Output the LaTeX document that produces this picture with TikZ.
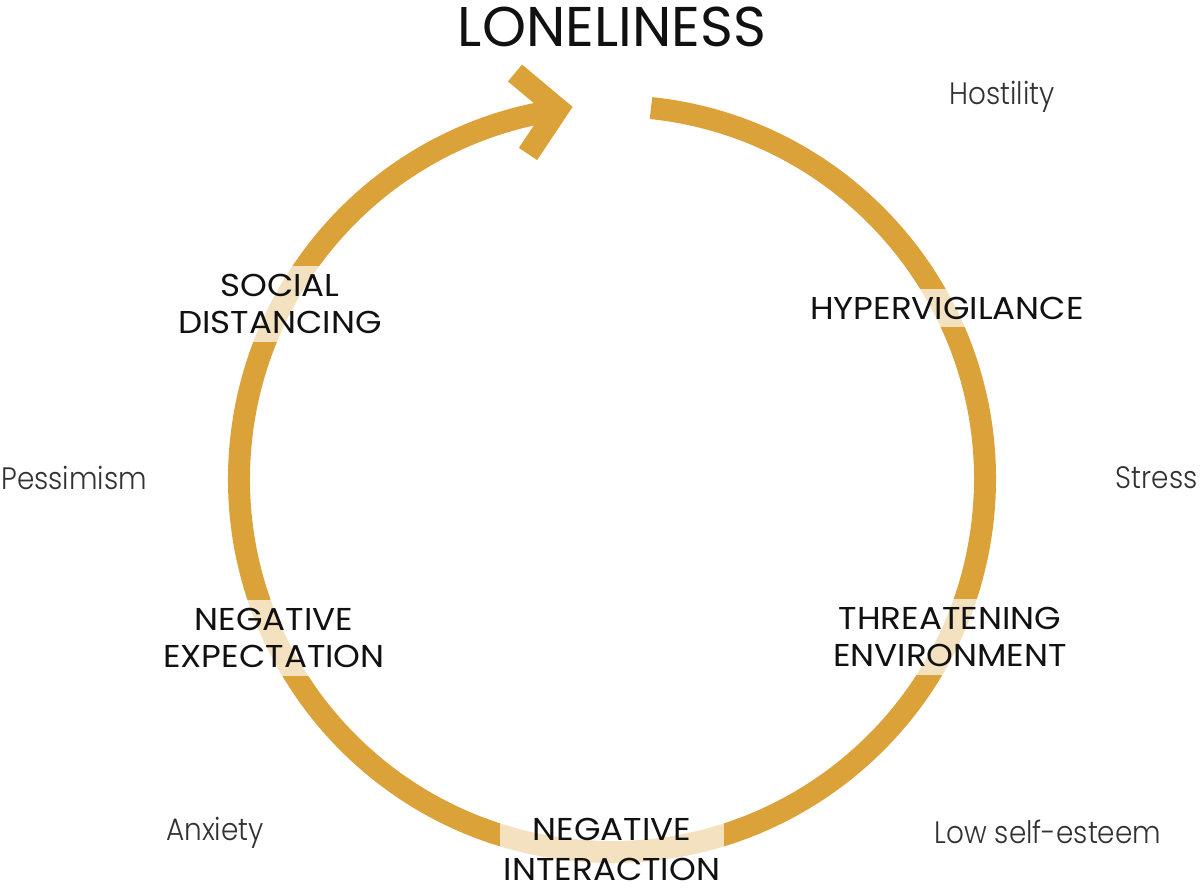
\documentclass[tikz,border=0pt]{standalone}
\usepackage{fontspec}
\setmainfont{Poppins}
\newfontfamily\labelfont[FakeStretch=1.08]{Poppins}
\IfFontExistsTF{Poppins Light}{\newfontfamily\lightfont[FakeStretch=0.9]{Poppins Light}}{\newfontfamily\lightfont[FakeStretch=0.9]{Poppins}}
\usetikzlibrary{calc}
\definecolor{gold}{RGB}{220,162,58}
\definecolor{ink}{RGB}{17,17,17}
\definecolor{soft}{RGB}{50,50,50}
\tikzset{
  ring/.style={draw=gold, line width=11pt, line cap=butt},
  stage/.style={fill=white, fill opacity=0.68, text opacity=1, text=ink, align=center,
    inner xsep=2pt, inner ysep=4pt, font=\labelfont\fontsize{15.8}{18.4}\selectfont},
  side/.style={text=soft, inner sep=0pt, font=\lightfont\fontsize{15.5}{19}\selectfont},
}
\begin{document}
\begin{tikzpicture}[x=0.5pt,y=0.5pt]
\useasboundingbox (0,0) rectangle (1200,-889);
\coordinate (C) at (612,-479);
% ring
\draw[ring] ($(C)+(84:186.5pt)$) arc[start angle=84, end angle=-262, radius=186.5pt];
\coordinate (aU) at (515,-73);
\coordinate (aT) at (558,-109);
\coordinate (aL) at (528,-154);
\draw[ring, line join=miter] (aU) -- (aT) -- (aL);
% title
\node[text=ink, inner sep=0pt, font=\fontsize{28}{32}\selectfont] (title) at (612,-27) {LONELINESS};
% stages
\node[stage] (social) at (280,-304) {SOCIAL\\DISTANCING};
\node[stage] (hyper) at (947,-308) {HYPERVIGILANCE};
\node[stage] (threat) at (950,-637) {THREATENING\\ENVIRONMENT};
\node[stage] (negexp) at (274,-638) {NEGATIVE\\EXPECTATION};
\node[stage, font=\labelfont\fontsize{15.8}{20}\selectfont] (negint) at (612,-849) {NEGATIVE\\INTERACTION};
% side words
\node[side] (host) at (1002,-97) {Hostility};
\node[side, anchor=east] (stress) at (1198,-478) {Stress};
\node[side, anchor=west] (pess) at (1,-478) {Pessimism};
\node[side] (anx) at (215,-833) {Anxiety};
\node[side] (low) at (1048,-832) {Low self-esteem};
\end{tikzpicture}
\end{document}
